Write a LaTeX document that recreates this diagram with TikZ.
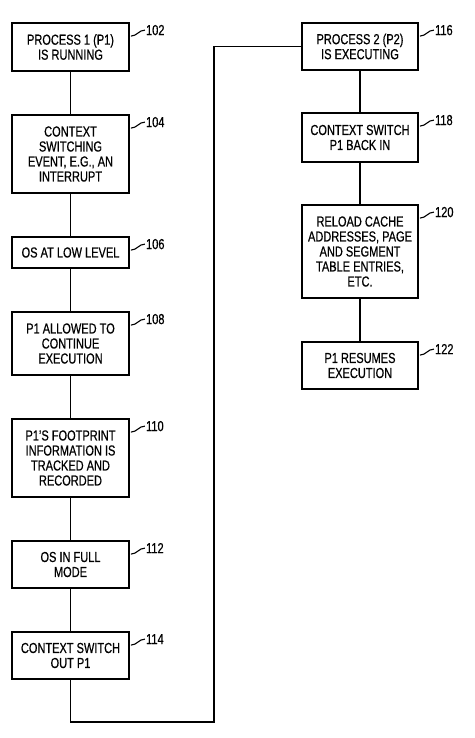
\documentclass[tikz,border=0pt]{standalone}
\usepackage{fontspec}
\setmainfont{Liberation Sans}[FakeStretch=0.76,FakeBold=0.6]
\begin{document}
\begin{tikzpicture}[x=1pt,y=-1pt,
  box/.style={draw,line width=1.8pt,minimum width=117pt,inner sep=0pt,align=center,
    font=\fontsize{14.5}{15}\selectfont},
  line/.style={line width=1.8pt},
  ref/.style={font=\fontsize{14.5}{15}\selectfont,inner sep=1pt,anchor=west},
  squig/.style={line width=1.1pt}]
\useasboundingbox (0,0) rectangle (474,738);
% left column
\node[box,minimum height=48pt] (b102) at (70.5,47) {PROCESS 1 (P1)\\IS RUNNING};
\node[box,minimum height=78pt] (b104) at (70.5,154) {CONTEXT\\SWITCHING\\EVENT, E.G., AN\\INTERRUPT};
\node[box,minimum height=31pt] (b106) at (70.5,252.5) {OS AT LOW LEVEL};
\node[box,minimum height=63pt] (b108) at (70.5,343.5) {P1 ALLOWED TO\\CONTINUE\\EXECUTION};
\node[box,minimum height=78pt] (b110) at (70.5,458) {P1'S FOOTPRINT\\INFORMATION IS\\TRACKED AND\\RECORDED};
\node[box,minimum height=47pt] (b112) at (70.5,564.5) {OS IN FULL\\MODE};
\node[box,minimum height=47pt] (b114) at (70.5,655.5) {CONTEXT SWITCH\\OUT P1};
% right column
\node[box,minimum height=47pt,minimum width=116pt] (b116) at (360,46.5) {PROCESS 2 (P2)\\IS EXECUTING};
\node[box,minimum height=49pt,minimum width=116pt] (b118) at (360,137.5) {CONTEXT SWITCH\\P1 BACK IN};
\node[box,minimum height=93pt,minimum width=116pt] (b120) at (360,251.5) {RELOAD CACHE\\ADDRESSES, PAGE\\AND SEGMENT\\TABLE ENTRIES,\\ETC.};
\node[box,minimum height=47pt,minimum width=116pt] (b122) at (360,365.5) {P1 RESUMES\\EXECUTION};
% connectors
\draw[line] (b102) -- (b104);
\draw[line] (b104) -- (b106);
\draw[line] (b106) -- (b108);
\draw[line] (b108) -- (b110);
\draw[line] (b110) -- (b112);
\draw[line] (b112) -- (b114);
\coordinate (c1) at (70.5,722);
\coordinate (c2) at (214,722);
\coordinate (c3) at (214,46.5);
\draw[line] (b114.south) -- (c1) -- (c2) -- (c3) -- (b116.west);
\draw[line] (b116) -- (b118);
\draw[line] (b118) -- (b120);
\draw[line] (b120) -- (b122);
% reference labels
\foreach \n in {102,104,106,108,110,112,114,116,118,120,122}{
  \node[ref] (l\n) at ([xshift=15pt,yshift=-8pt]b\n.north east) {\n};
  \draw[squig] ([xshift=1pt,yshift=-14pt]b\n.north east) to[out=0,in=180] (l\n.west);
}
\end{tikzpicture}
\end{document}
